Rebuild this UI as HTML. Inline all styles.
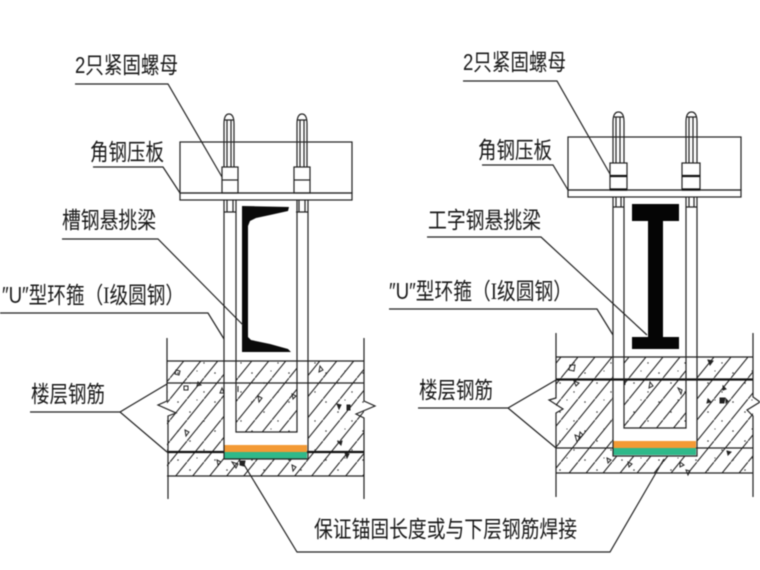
<!DOCTYPE html>
<html><head><meta charset="utf-8">
<style>
html,body{margin:0;padding:0;background:#fff;width:760px;height:570px;overflow:hidden}
svg{display:block;filter:blur(.4px)}
text{font-family:"Liberation Sans","Noto Sans CJK SC","WenQuanYi Zen Hei",sans-serif;font-size:23px;fill:#1a1a1a}
.s{font-family:"Liberation Serif",serif}
.l{stroke:#222;stroke-width:1.2;fill:none}
.t{stroke:#111;stroke-width:2.2;fill:none}
</style></head><body>
<svg width="760" height="570" viewBox="0 0 760 570" xmlns="http://www.w3.org/2000/svg">
<defs>
<pattern id="hatch" patternUnits="userSpaceOnUse" width="17" height="21">
<line x1="-1" y1="22.2" x2="18" y2="-1.2" stroke="#222" stroke-width="1.1"/>
</pattern>
<pattern id="dots" patternUnits="userSpaceOnUse" width="37" height="29">
<circle cx="5" cy="6" r=".8" fill="#333"/><circle cx="19" cy="15" r=".7" fill="#333"/><circle cx="30" cy="25" r=".8" fill="#333"/><circle cx="12" cy="23" r=".6" fill="#444"/>
</pattern>
</defs>
<rect width="760" height="570" fill="#fff"/>

<!-- LEFT slab -->
<rect x="167" y="361" width="197" height="115" fill="url(#hatch)"/>
<rect x="167" y="361" width="197" height="115" fill="url(#dots)"/>
<rect x="224" y="361" width="84" height="98" fill="#fff"/>
<rect x="236" y="361" width="61" height="71" fill="url(#hatch)"/>
<rect x="236" y="361" width="61" height="71" fill="url(#dots)"/>
<rect x="224" y="445" width="83" height="8" fill="#f39a35"/>
<rect x="224" y="452" width="83" height="7" fill="#2fb98a"/>
<path class="l" d="M167 361H364M167 476H364M167 383H364"/>
<path class="t" d="M167 452H224M307 452H364"/>
<path class="l" d="M167 338V401L158 405L176 413L168 416V499"/>
<path class="l" d="M364 338V401L375 406L356 414L364 418V499"/>
<path class="l" d="M224 200V459H308V200M236 200V432H297V200"/>
<path class="l" d="M227 200V212M233 200V212M224 212H236M299 200V212M305 200V212M296 212H308"/>
<!-- left plate -->
<rect x="180" y="142" width="172" height="51" fill="#fff" class="l"/>
<rect x="180" y="193" width="172" height="7" fill="#fff" class="l"/>
<path class="l" d="M224 142V124Q224 114 229 114Q234 114 234 124V167M227 120V167M231 120V167M224 120H234M224 142V167"/>
<path class="l" d="M297 142V124Q297 114 302 114Q307 114 307 124V167M300 120V167M304 120V167M297 120H307M297 142V167"/>
<rect x="222" y="167" width="16" height="26" fill="#fff" class="l"/><line class="l" x1="222" y1="180" x2="238" y2="180"/>
<rect x="294" y="167" width="16" height="26" fill="#fff" class="l"/><line class="l" x1="294" y1="180" x2="310" y2="180"/>
<!-- channel -->
<path fill="#0a0a0a" d="M242 206L289 207L288 211L270 215L256 218L250 221L248 226V337L251 340L270 344L288 349L291 352H242Z"/>
<!-- left leaders -->
<path class="l" d="M75 84H168L222 177M93 167H163L180 193M62 239H158L243 325M0 313H208L224 339M30 412H120L167 384M120 412L167 452M243 463L297 552H610L664 459"/>

<!-- RIGHT slab -->
<rect x="556" y="357" width="197" height="116" fill="url(#hatch)"/>
<rect x="556" y="357" width="197" height="116" fill="url(#dots)"/>
<rect x="613" y="357" width="84" height="99" fill="#fff"/>
<rect x="624" y="357" width="62" height="71" fill="url(#hatch)"/>
<rect x="624" y="357" width="62" height="71" fill="url(#dots)"/>
<rect x="613" y="441" width="83" height="8" fill="#f39a35"/>
<rect x="613" y="448" width="83" height="7" fill="#2fb98a"/>
<path class="l" d="M556 357H753M556 473H753M556 448H613M696 448H753"/>
<path class="t" d="M556 379.500H753"/>
<path class="l" d="M556 333V398L549 400L563 409L556 413V497"/>
<path class="l" d="M753 333V397L760 402L747 410L753 416V497"/>
<path class="l" d="M613 197V456H697V197M624 197V428H686V197"/>
<path class="l" d="M616 197V207M621 197V207M613 207H624M689 197V207M694 197V207M686 207H697"/>
<!-- right plate -->
<rect x="568" y="137" width="173" height="53" fill="#fff" class="l"/>
<rect x="568" y="190" width="173" height="7" fill="#fff" class="l"/>
<path class="l" d="M613 137V122Q613 112 618.500 112Q624 112 624 122V163M616 117V163M620 117V163M613 117H624M613 137V163"/>
<path class="l" d="M686 137V122Q686 112 691.500 112Q697 112 697 122V163M689 117V163M693 117V163M686 117H697M686 137V163"/>
<rect x="610" y="163" width="17" height="27" fill="#fff" class="l"/><line class="t" x1="610" y1="176" x2="627" y2="176"/><line class="t" x1="610" y1="189.500" x2="627" y2="189.500"/>
<rect x="682" y="163" width="18" height="27" fill="#fff" class="l"/><line class="t" x1="682" y1="176" x2="700" y2="176"/><line class="t" x1="682" y1="189.500" x2="700" y2="189.500"/>
<!-- I beam -->
<path fill="#050505" d="M632 204H679V221H663V337H679V349H632V337H648V221H632Z"/>
<!-- right leaders -->
<path class="l" d="M463 81H557L610 174M482 165H553L568 190M427 237H541L647 335M389 309H597L613 335M418 408H508L556 380M508 408L556 448"/>

<!-- aggregate marks -->
<g fill="none" stroke="#222" stroke-width="1">
<path d="M176 370l4 1-1 4-4-1zM184 386h4v4h-4zM198 382l3 3-4 1zM185 430l4 2-3 4zM222 388l-2 5 4 0zM238 386v6M258 396l4 2-3 4zM292 394l4 2-3 3zM320 366l3 4-4 2zM232 462l6 2-2 4zM217 460l4 2-3 3zM292 465l4 2-3 4z"/>
<path fill="#222" d="M337 404l4 1-2 4zM347 405l3 0 0 5-3 0zM338 442l4-1-1 4zM345 453l4 1-2 4zM240 461l5 0-1 5-4-1z"/>
<path d="M570 365l5 0-1 6-5-1zM574 381l5 2-3 3zM575 435l5 2-3 5zM580 432l3 3-4 3zM650 382l3 4-4 2zM678 388l4 2-1 4zM625 380v5M628 462l4 2-3 3zM607 458l4 2-3 3zM680 462l4 3-4 2zM686 470l4 1-2 4z"/>
<path fill="#222" d="M708 399l3 3-4 1zM720 398l5 0-1 5-4 0zM723 386l3 3-3 1zM708 360l5 1-3 4zM727 451l4 1-3 3zM726 399l2 2-2 2z"/>
</g>

<!-- labels -->
<text x="75" y="73" textLength="103" lengthAdjust="spacingAndGlyphs">2只紧固螺母</text>
<text x="90" y="160" textLength="74" lengthAdjust="spacingAndGlyphs">角钢压板</text>
<text x="62" y="228" textLength="94" lengthAdjust="spacingAndGlyphs">槽钢悬挑梁</text>
<text x="2" y="303" textLength="182" lengthAdjust="spacingAndGlyphs">″U″型环箍（<tspan class="s">I</tspan>级圆钢）</text>
<text x="31" y="402" textLength="74" lengthAdjust="spacingAndGlyphs">楼层钢筋</text>
<text x="463" y="70" textLength="103" lengthAdjust="spacingAndGlyphs">2只紧固螺母</text>
<text x="478" y="158" textLength="74" lengthAdjust="spacingAndGlyphs">角钢压板</text>
<text x="428" y="228" textLength="113" lengthAdjust="spacingAndGlyphs">工字钢悬挑梁</text>
<text x="389" y="299" textLength="183" lengthAdjust="spacingAndGlyphs">″U″型环箍（<tspan class="s">I</tspan>级圆钢）</text>
<text x="419" y="398" textLength="74" lengthAdjust="spacingAndGlyphs">楼层钢筋</text>
<text x="314" y="537" textLength="263" lengthAdjust="spacingAndGlyphs">保证锚固长度或与下层钢筋焊接</text>
</svg>
</body></html>
